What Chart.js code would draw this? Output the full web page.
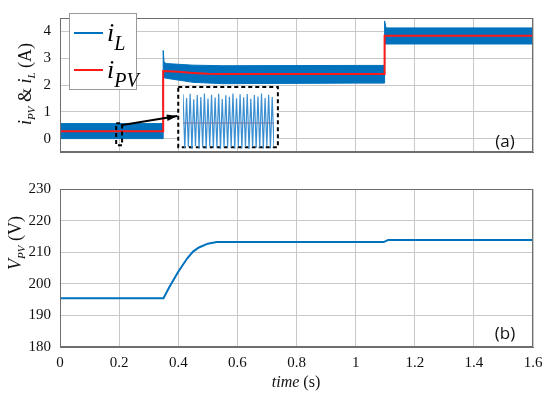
<!DOCTYPE html>
<html>
<head>
<meta charset="utf-8">
<script src="https://cdn.jsdelivr.net/npm/chart.js@4/dist/chart.umd.min.js"></script>
<style>
    body { margin: 0; background: #fff; }
    #wrap { position: relative; width: 550px; height: 394px; font-family: "Liberation Serif", "DejaVu Serif", serif; }
    canvas { position: absolute; }
    .lbl { position: absolute; white-space: nowrap; color: #111; }
    .rot { transform: translate(-50%, -50%) rotate(-90deg); font-size: 18px; }
    .rot sub { font-style: italic; font-size: 11px; }
    .panel { font-family: "Open Sans", sans-serif; font-size: 17px; transform: translate(-50%, -50%); }
    .legend { position: absolute; left: 69px; top: 13px; width: 66px; height: 75px; border: 1px solid #9a9a9a; background: #fff; font-family: "Liberation Serif", serif; }
    .legend .sw { position: absolute; left: 4px; width: 29px; height: 2px; }
    .legend .tx { position: absolute; left: 37px; font-size: 26px; font-style: italic; line-height: 1; }
    .legend sub { font-size: 20px; font-style: italic; vertical-align: -9px; }
</style>
</head>
<body>
<div id="wrap">
    <canvas id="topChart" width="550" height="170" style="left:0;top:0"></canvas>
    <canvas id="bottomChart" width="550" height="224" style="left:0;top:170px"></canvas>
    <canvas id="insetChart" width="100" height="71" style="left:178px;top:85px"></canvas>

    <div class="lbl rot" style="left:26px;top:84px"><i>i</i><sub>PV</sub> &amp; <i>i</i><sub>L</sub> (A)</div>
    <div class="lbl rot" style="left:16px;top:243px"><i>V</i><sub>PV</sub> (V)</div>
    <div class="lbl" style="left:296px;top:382px;transform:translate(-50%,-50%);font-size:16px"><i>time</i> (s)</div>
    <div class="lbl panel" style="left:505px;top:140px">(a)</div>
    <div class="lbl panel" style="left:505px;top:332px">(b)</div>

    <div class="legend">
        <div class="sw" style="top:18px;background:#0072BD"></div>
        <div class="tx" style="top:6px">i<sub>L</sub></div>
        <div class="sw" style="top:55px;background:#ff1a1a"></div>
        <div class="tx" style="top:43px">i<sub>PV</sub></div>
    </div>
</div>
<script>
// time axis
const xTicks = [0, 0.2, 0.4, 0.6, 0.8, 1, 1.2, 1.4, 1.6];
const yTicksA = [0, 1, 2, 3, 4];
const yTicksB = [180, 190, 200, 210, 220, 230];

// inductor current band (upper / lower envelope of the ripple)
const tL = [0, 0.349, 0.349, 0.352, 0.36, 0.45, 0.55, 1.0, 1.098, 1.098, 1.103, 1.6];
const iLHigh = [0.56, 0.56, 3.29, 2.85, 2.80, 2.74, 2.72, 2.73, 2.73, 4.39, 4.13, 4.13];
const iLLow = [0.0, 0.0, 2.27, 2.27, 2.25, 2.10, 2.05, 2.07, 2.07, 3.53, 3.53, 3.53];

// PV current
const tPV = [0, 0.349, 0.349, 0.40, 0.45, 0.50, 0.55, 1.098, 1.098, 1.6];
const iPV = [0.27, 0.27, 2.52, 2.49, 2.45, 2.42, 2.41, 2.41, 3.84, 3.84];

// PV voltage
const tV = [0, 0.35, 0.37, 0.40, 0.43, 0.45, 0.47, 0.50, 0.53, 1.095, 1.11, 1.6];
const vPV = [195.4, 195.4, 199.0, 203.8, 208.0, 210.2, 211.5, 212.7, 213.2, 213.2, 213.9, 213.9];

// zoomed ripple in the inset (peaks and troughs, normalised)
const insetTops = [0.97, 0.85, 0.99, 0.80, 0.95, 0.88, 1.0, 0.83, 0.96, 0.86, 0.99, 0.81, 0.94, 0.89, 1.0, 0.84, 0.97, 0.87, 0.98, 0.82, 0.95, 0.90, 1.0, 0.85, 0.96, 0.88];
const insetBottoms = [-0.85, -0.80, -0.88, -0.78, -0.86, -0.82, -0.87, -0.79, -0.85, -0.83, -0.88, -0.80, -0.84, -0.82, -0.87, -0.79, -0.86, -0.81, -0.88, -0.80, -0.85, -0.83, -0.87, -0.78, -0.86, -0.82];

// annotation boxes in data units of the top plot
const markBox = { x0: 0.19, x1: 0.21, y0: 0.57, y1: -0.25 };
const insetBox = { x0: 0.40, x1: 0.737, y0: 1.93, y1: -0.32 };
const arrow = { x0: 0.206, y0: 0.50, x1: 0.397, y1: 0.84 };

const blue = '#0072BD';
const red = '#ff1a1a';
const gridColor = '#c8c8c8';
const frameColor = '#6e6e6e';
const tickFont = { family: '"Liberation Serif", serif', size: 15 };

const pts = (xs, ys) => xs.map((x, i) => ({ x: x, y: ys[i] }));

const framePlugin = {
    id: 'frame',
    afterDraw(chart) {
        const a = chart.chartArea;
        const ctx = chart.ctx;
        ctx.save();
        ctx.strokeStyle = frameColor;
        ctx.lineWidth = 1;
        ctx.strokeRect(a.left + 0.5, a.top + 0.5, a.right - a.left - 1, a.bottom - a.top - 1);
        ctx.restore();
    }
};

const zoomPlugin = {
    id: 'zoomMarks',
    afterDatasetsDraw(chart) {
        const x = chart.scales.x, y = chart.scales.y, ctx = chart.ctx;
        ctx.save();
        // inset box
        const bx0 = x.getPixelForValue(insetBox.x0), bx1 = x.getPixelForValue(insetBox.x1);
        const by0 = y.getPixelForValue(insetBox.y0), by1 = y.getPixelForValue(insetBox.y1);
        ctx.fillStyle = '#fff';
        ctx.fillRect(bx0, by0, bx1 - bx0, by1 - by0);
        ctx.setLineDash([4, 3]);
        ctx.lineWidth = 2;
        ctx.strokeStyle = '#000';
        ctx.strokeRect(bx0, by0, bx1 - bx0, by1 - by0);
        // small marker box
        const mx0 = x.getPixelForValue(markBox.x0), mx1 = x.getPixelForValue(markBox.x1);
        const my0 = y.getPixelForValue(markBox.y0), my1 = y.getPixelForValue(markBox.y1);
        ctx.strokeRect(mx0, my0, mx1 - mx0, my1 - my0);
        // arrow
        ctx.setLineDash([]);
        const ax0 = x.getPixelForValue(arrow.x0), ay0 = y.getPixelForValue(arrow.y0);
        const ax1 = x.getPixelForValue(arrow.x1), ay1 = y.getPixelForValue(arrow.y1);
        ctx.beginPath();
        ctx.moveTo(ax0, ay0);
        ctx.lineTo(ax1, ay1);
        ctx.stroke();
        const ang = Math.atan2(ay1 - ay0, ax1 - ax0);
        ctx.fillStyle = '#000';
        ctx.beginPath();
        ctx.moveTo(ax1, ay1);
        ctx.lineTo(ax1 - 11 * Math.cos(ang - 0.3), ay1 - 11 * Math.sin(ang - 0.3));
        ctx.lineTo(ax1 - 11 * Math.cos(ang + 0.3), ay1 - 11 * Math.sin(ang + 0.3));
        ctx.closePath();
        ctx.fill();
        ctx.restore();

        // put inset chart canvas inside the dashed box
        const inset = document.getElementById('insetChart');
        inset.style.left = bx0 + 'px';
        inset.style.top = by0 + 'px';
    }
};

function xScale(showTicks, fitHeight) {
    return {
        type: 'linear',
        min: 0,
        max: 1.6,
        afterBuildTicks: s => { s.ticks = xTicks.map(v => ({ value: v })); },
        afterFit: s => { s.height = fitHeight; },
        grid: { color: gridColor, drawTicks: false },
        border: { color: frameColor },
        ticks: {
            display: showTicks, font: tickFont, color: '#111', padding: 7, maxRotation: 0,
            callback: v => String(Number(v.toFixed(2)))
        }
    };
}

function yScale(min, max, ticks) {
    return {
        min: min,
        max: max,
        afterBuildTicks: s => { s.ticks = ticks.map(v => ({ value: v })); },
        afterFit: s => { s.width = 60; },
        grid: { color: gridColor, drawTicks: false },
        border: { color: frameColor },
        ticks: { font: tickFont, color: '#111', padding: 9 }
    };
}

const commonPlugins = { legend: { display: false }, tooltip: { enabled: false } };

new Chart(document.getElementById('topChart'), {
    type: 'line',
    data: {
        datasets: [
            { data: pts(tL, iLLow), borderColor: blue, borderWidth: 1, pointRadius: 0, fill: false, order: 2 },
            { data: pts(tL, iLHigh), borderColor: blue, borderWidth: 1, pointRadius: 0, fill: '-1', backgroundColor: blue, order: 1 },
            { data: pts(tPV, iPV), borderColor: red, borderWidth: 2, pointRadius: 0, fill: false, order: 0 }
        ]
    },
    options: {
        responsive: false,
        animation: false,
        layout: { padding: { left: 0, right: 17, top: 4, bottom: 9 } },
        scales: { x: xScale(false, 0), y: yScale(-0.5, 4.5, yTicksA) },
        plugins: commonPlugins
    },
    plugins: [framePlugin, zoomPlugin]
});

new Chart(document.getElementById('bottomChart'), {
    type: 'line',
    data: {
        datasets: [
            { data: pts(tV, vPV), borderColor: blue, borderWidth: 2, pointRadius: 0, fill: false }
        ]
    },
    options: {
        responsive: false,
        animation: false,
        layout: { padding: { left: 0, right: 17, top: 19, bottom: 0 } },
        scales: { x: xScale(true, 47), y: yScale(180, 230, yTicksB) },
        plugins: commonPlugins
    },
    plugins: [framePlugin]
});

// inset ripple: alternate peak / trough
const ripple = [];
insetTops.forEach((v, i) => {
    ripple.push({ x: i, y: v });
    ripple.push({ x: i + 0.5, y: insetBottoms[i] });
});

new Chart(document.getElementById('insetChart'), {
    type: 'line',
    data: {
        datasets: [
            { data: ripple, borderColor: '#3a8fd2', borderWidth: 1.2, pointRadius: 0, fill: false },
            { data: [{ x: 0, y: 0 }, { x: insetTops.length - 0.5, y: 0 }], borderColor: '#e23a3a', borderWidth: 1, pointRadius: 0, fill: false }
        ]
    },
    options: {
        responsive: false,
        animation: false,
        layout: { padding: { left: 5, right: 4, top: 5, bottom: 4 } },
        scales: {
            x: { type: 'linear', display: false, min: 0, max: insetTops.length - 0.5 },
            y: { display: false, min: -1.05, max: 1.05 }
        },
        plugins: commonPlugins
    }
});
</script>
</body>
</html>
